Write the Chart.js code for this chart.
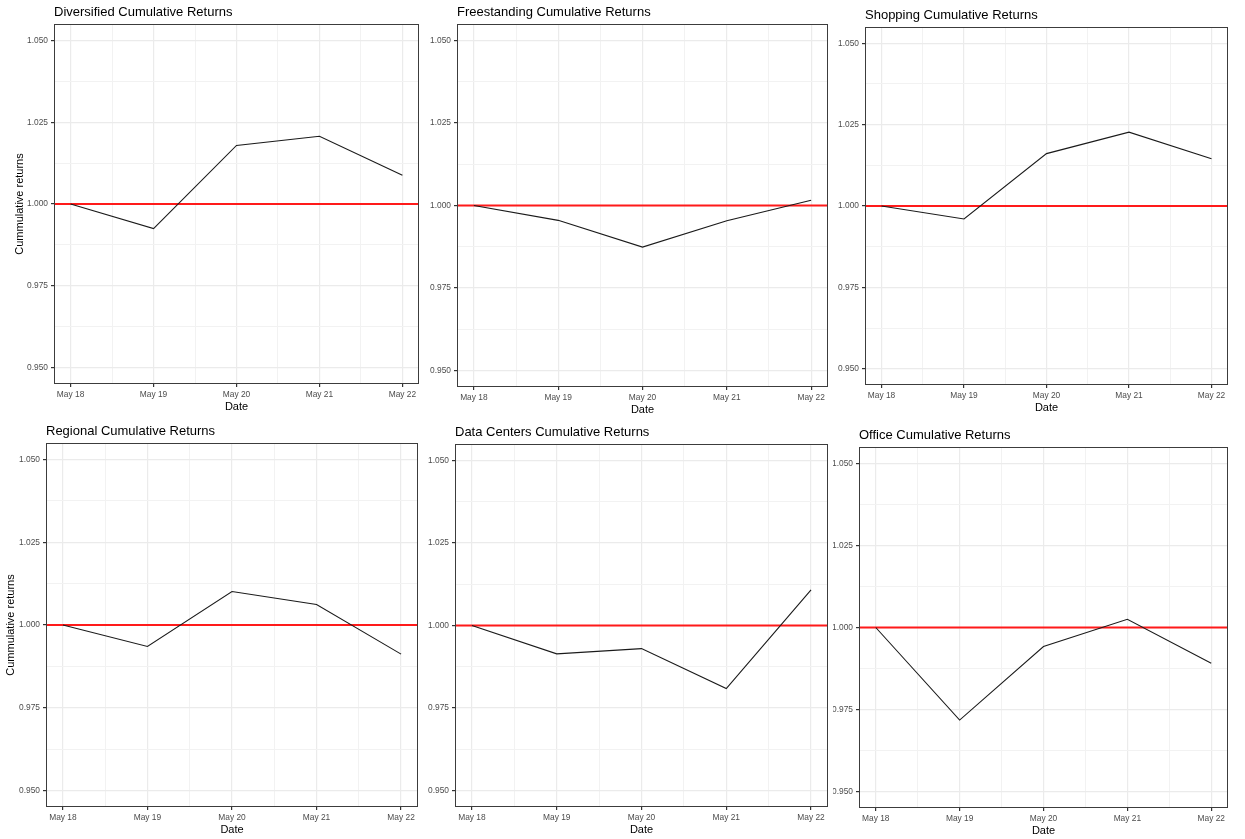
<!DOCTYPE html>
<html>
<head>
<meta charset="utf-8">
<script src="https://cdn.jsdelivr.net/npm/chart.js@4.4.0/dist/chart.umd.min.js"></script>
<style>
  html, body { margin: 0; padding: 0; background: #fff; }
  body { width: 1245px; height: 839px; position: relative; overflow: hidden; }
  canvas { position: absolute; }
</style>
</head>
<body>
<script>
// dates on the x axis
const dateLabels = ["May 18", "May 19", "May 20", "May 21", "May 22"];
// y axis breaks
const yTicks = [0.95, 0.975, 1.0, 1.025, 1.05];
const yTickLabels = ["0.950", "0.975", "1.000", "1.025", "1.050"];
const baseline = 1;

// cumulative returns per sector
const diversified = [1.0, 0.9925, 1.0179, 1.0207, 1.0088];
const freestanding = [1.0, 0.9955, 0.9874, 0.9954, 1.0016];
const shopping = [1.0, 0.996, 1.0161, 1.0227, 1.0145];
const regional = [1.0, 0.9935, 1.0101, 1.0062, 0.9912];
const dataCenters = [1.0, 0.9914, 0.993, 0.9809, 1.0108];
const office = [1.0, 0.9718, 0.9942, 1.0025, 0.9891];

// panel boxes [left, top, right, bottom] on the page
const panels = [
  { title: "Diversified Cumulative Returns", values: diversified, box: [54, 24, 419, 384], yTitle: true, left: 0, padLeft: 13 },
  { title: "Freestanding Cumulative Returns", values: freestanding, box: [457, 24, 828, 387], yTitle: false, left: 417, padLeft: 0 },
  { title: "Shopping Cumulative Returns", values: shopping, box: [865, 27, 1228, 385], yTitle: false, left: 825, padLeft: 0 },
  { title: "Regional Cumulative Returns", values: regional, box: [46, 443, 418, 807], yTitle: true, left: 0, padLeft: 4 },
  { title: "Data Centers Cumulative Returns", values: dataCenters, box: [455, 444, 828, 807], yTitle: false, left: 415, padLeft: 0 },
  { title: "Office Cumulative Returns", values: office, box: [859, 447, 1228, 808], yTitle: false, left: 833, padLeft: 0 },
];

Chart.defaults.font.family = '"Liberation Sans", Arial, sans-serif';
Chart.defaults.animation = false;

const n = dateLabels.length;
const xMin = -0.05 * (n - 1);
const xMax = (n - 1) + 0.05 * (n - 1);
const ySpan = yTicks[yTicks.length - 1] - yTicks[0];
const yMin = yTicks[0] - 0.05 * ySpan;
const yMax = yTicks[yTicks.length - 1] + 0.05 * ySpan;

// major + minor breaks (minor = midpoints, like ggplot)
const xBreaks = [];
for (let i = 0; i < n; i++) {
  xBreaks.push(i);
  if (i < n - 1) xBreaks.push(i + 0.5);
}
const yBreaks = [];
for (let i = 0; i < yTicks.length; i++) {
  yBreaks.push(yTicks[i]);
  if (i < yTicks.length - 1) yBreaks.push((yTicks[i] + yTicks[i + 1]) / 2);
}
yBreaks.sort((a, b) => a - b);

const isMajorX = (v) => Math.abs(v - Math.round(v)) < 1e-6;
const yMajorIndex = (v) => yTicks.findIndex((t) => Math.abs(t - v) < 1e-6);

const padTop = 24;
const xAxisH = 30;
const padRight = 2;

const panelDeco = {
  id: "panelDeco",
  beforeDatasetsDraw(chart) {
    // red reference line at 1
    const { ctx, chartArea: a, scales } = chart;
    const yy = scales.y.getPixelForValue(baseline);
    ctx.save();
    ctx.strokeStyle = "#FF1A1A";
    ctx.lineWidth = 2;
    ctx.beginPath();
    ctx.moveTo(a.left, yy);
    ctx.lineTo(a.right, yy);
    ctx.stroke();
    ctx.restore();
  },
  afterDraw(chart, args, opts) {
    const { ctx, chartArea: a } = chart;
    ctx.save();
    ctx.strokeStyle = "#3c3c3c";
    ctx.lineWidth = 1;
    ctx.strokeRect(a.left + 0.5, a.top + 0.5, a.right - a.left - 1, a.bottom - a.top - 1);
    ctx.fillStyle = "#000";
    ctx.font = '13px "Liberation Sans", Arial, sans-serif';
    ctx.textBaseline = "alphabetic";
    ctx.textAlign = "left";
    ctx.fillText(opts.title, a.left, a.top - 8);
    ctx.restore();
  },
};

panels.forEach((p) => {
  const [l, t, r, b] = p.box;
  const yW = l - p.left - p.padLeft;
  const canvas = document.createElement("canvas");
  const w = r - p.left + padRight;
  const h = padTop + (b - t) + xAxisH;
  canvas.width = w;
  canvas.height = h;
  canvas.style.left = p.left + "px";
  canvas.style.top = (t - padTop) + "px";
  canvas.style.width = w + "px";
  canvas.style.height = h + "px";
  document.body.appendChild(canvas);

  new Chart(canvas.getContext("2d"), {
    type: "line",
    data: {
      datasets: [
        {
          data: p.values.map((v, i) => ({ x: i, y: v })),
          borderColor: "#1a1a1a",
          borderWidth: 1.1,
          pointRadius: 0,
          tension: 0,
          fill: false,
        },
      ],
    },
    options: {
      responsive: false,
      devicePixelRatio: 1,
      layout: { padding: { left: p.padLeft, top: padTop, right: padRight, bottom: 0 } },
      plugins: {
        legend: { display: false },
        tooltip: { enabled: false },
        panelDeco: { title: p.title },
      },
      scales: {
        x: {
          type: "linear",
          position: "bottom",
          min: xMin,
          max: xMax,
          afterBuildTicks: (s) => { s.ticks = xBreaks.map((v) => ({ value: v })); },
          afterFit: (s) => { s.height = xAxisH; s.paddingLeft = 0; s.paddingRight = 0; },
          ticks: {
            autoSkip: false,
            maxRotation: 0,
            minRotation: 0,
            padding: 3,
            color: "#4D4D4D",
            font: { size: 8.4 },
            callback: (v) => (isMajorX(v) ? dateLabels[Math.round(v)] : ""),
          },
          grid: {
            color: (c) => (c.tick && isMajorX(c.tick.value) ? "#EBEBEB" : "#F2F2F2"),
            lineWidth: (c) => (c.tick && isMajorX(c.tick.value) ? 1.2 : 1),
            tickColor: (c) => (c.tick && isMajorX(c.tick.value) ? "#333333" : "rgba(0,0,0,0)"),
            tickLength: 3,
          },
          border: { display: false },
          title: { display: true, text: "Date", color: "#000", font: { size: 11 }, padding: 0 },
        },
        y: {
          type: "linear",
          min: yMin,
          max: yMax,
          afterBuildTicks: (s) => { s.ticks = yBreaks.map((v) => ({ value: v })); },
          afterFit: (s) => { s.width = yW; s.paddingTop = 0; s.paddingBottom = 0; },
          ticks: {
            autoSkip: false,
            padding: 3,
            color: "#4D4D4D",
            font: { size: 8.4 },
            callback: (v) => {
              const k = yMajorIndex(v);
              return k >= 0 ? yTickLabels[k] : "";
            },
          },
          grid: {
            color: (c) => (c.tick && yMajorIndex(c.tick.value) >= 0 ? "#EBEBEB" : "#F2F2F2"),
            lineWidth: (c) => (c.tick && yMajorIndex(c.tick.value) >= 0 ? 1.2 : 1),
            tickColor: (c) => (c.tick && yMajorIndex(c.tick.value) >= 0 ? "#333333" : "rgba(0,0,0,0)"),
            tickLength: 3,
          },
          border: { display: false },
          title: { display: p.yTitle, text: "Cummulative returns", color: "#000", font: { size: 11 }, padding: 0 },
        },
      },
    },
    plugins: [panelDeco],
  });
});
</script>
</body>
</html>
